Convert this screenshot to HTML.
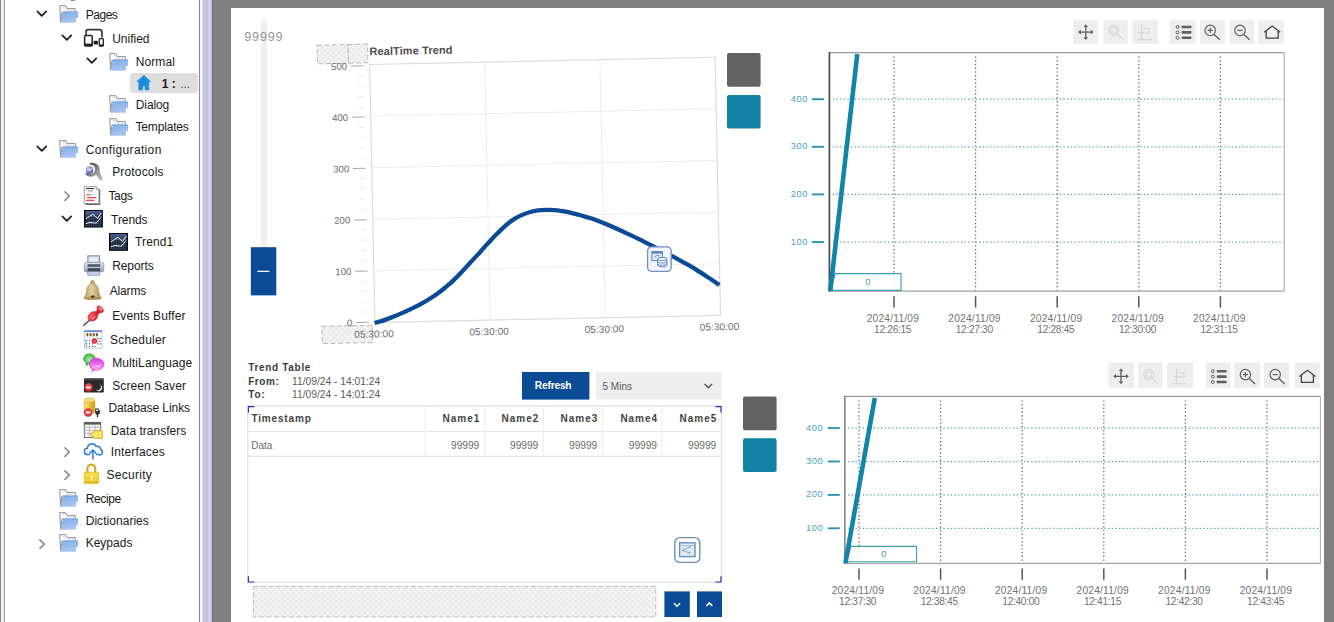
<!DOCTYPE html>
<html><head><meta charset="utf-8"><title>HMI Designer</title>
<style>
html,body{margin:0;padding:0}
body{width:1334px;height:622px;overflow:hidden;background:#808080;position:relative;font-family:"Liberation Sans",sans-serif;}
.abs{position:absolute}
.t{position:absolute;white-space:pre;line-height:1;color:#1a1a1a;font-size:12px}
svg{position:absolute;overflow:visible}
</style></head><body>

<div class="abs" style="left:0;top:0;width:199px;height:622px;background:#fff"></div>
<div class="abs" style="left:0;top:0;width:1px;height:622px;background:#8c8c8c"></div>
<div class="abs" style="left:1px;top:0;width:3px;height:622px;background:#efeff1"></div>
<div class="abs" style="left:4px;top:0;width:1px;height:622px;background:#9a9a9a"></div>
<div class="abs" style="left:199px;top:0;width:1px;height:622px;background:#8a8a8a"></div>
<div class="abs" style="left:200px;top:0;width:2px;height:622px;background:#f6f8f8"></div>
<div class="abs" style="left:202px;top:0;width:10px;height:622px;background:linear-gradient(90deg,#dfe3ee 0,#c6c9de 15%,#c3c6da 55%,#cad3f0 75%,#ccd6f3 90%,#9aa0b4 100%)"></div>
<div class="abs" style="left:212px;top:0;width:1px;height:622px;background:#70737a"></div>
<svg width="0" height="0" style="position:absolute"><defs>
<linearGradient id="fg" x1="0" y1="0" x2="0.3" y2="1"><stop offset="0" stop-color="#7fb0ea"/><stop offset="1" stop-color="#a9c3ee"/></linearGradient>
<symbol id="folder" viewBox="0 0 20 18.5">
 <path d="M0.7 0.7 H7 L8.2 3.7 H16.6 V7.4 H3 L1.7 17.6 Z" fill="#fdfdfd" stroke="#868686" stroke-width="0.95"/>
 <path d="M8.4 4.4 H16.1 V7 H4.4 Z" fill="#dfe3ea"/>
 <path d="M4 2.7h2.4" stroke="#b5b5b5" stroke-width="0.7"/>
 <path d="M3.9 6.9 H19.5 V13.2 H17.5 L17.1 18.1 H1.3 Z" fill="url(#fg)"/>
 <path d="M3.9 7.1 H19.5" stroke="#5d92da" stroke-width="0.8" opacity=".75"/>
</symbol>
<symbol id="chevd" viewBox="0 0 12 8"><path d="M1.2 1.6 L6 6.3 L10.8 1.6" fill="none" stroke="#222" stroke-width="1.95" stroke-linecap="round" stroke-linejoin="round"/></symbol>
<symbol id="chevr" viewBox="0 0 7 11"><path d="M1 1 L5.6 5.5 L1 10" fill="none" stroke="#8f8f8f" stroke-width="1.8" stroke-linecap="round" stroke-linejoin="round"/></symbol>
<linearGradient id="tg" x1="0" y1="0" x2="0" y2="1"><stop offset="0" stop-color="#3f6296"/><stop offset="1" stop-color="#0c1226"/></linearGradient>
<symbol id="trend" viewBox="0 0 19 18">
 <rect x="0" y="0" width="19" height="18" fill="#0c1226"/>
 <rect x="0" y="0" width="19" height="9" fill="url(#tg)"/>
 <path d="M2.6 0v18M5 0v18M7.4 0v18M9.8 0v18M12.2 0v18M14.6 0v18M17 0v18M0 1.8h19M0 4.2h19M0 6.6h19M0 9h19M0 11.4h19M0 13.8h19M0 16.2h19" stroke="#6f86a8" stroke-width="0.7" opacity=".62"/>
 <rect x="0.5" y="0.5" width="18" height="17" fill="none" stroke="#05070f" stroke-width="1.2"/>
 <path d="M1.8 9 L5.6 6.4 L9.2 4.4 L13.4 8.6 L17.6 3" fill="none" stroke="#f4f6ff" stroke-width="1"/>
 <path d="M1.8 14 L6 12.6 L10 13.2 L12.4 13.4 L17.2 7.6" fill="none" stroke="#f4f6ff" stroke-width="1"/>
</symbol>
</defs></svg>
<div class="abs" style="left:71px;top:0;width:4px;height:1px;background:#8a8a8a"></div>
<div class="abs" style="left:130.2px;top:73px;width:67.5px;height:19.6px;background:#dedede;border-radius:3px"></div>
<svg style="left:36.300000000000004px;top:10.1px" width="11.6" height="7.4"><use href="#chevd" width="11.6" height="7.4"/></svg>
<svg style="left:58.6px;top:5.2px" width="19.6" height="18.1"><use href="#folder" width="19.6" height="18.1"/></svg>
<div class="t" style="left:85.7px;top:9.0px;font-size:12px;color:#1a1a1a;letter-spacing:-0.466px;">Pages</div>
<svg style="left:61.10000000000001px;top:33.9px" width="11.6" height="7.4"><use href="#chevd" width="11.6" height="7.4"/></svg>
<div class="t" style="left:112.2px;top:32.6px;font-size:12px;color:#1a1a1a;letter-spacing:-0.009px;">Unified</div>
<svg style="left:86.10000000000001px;top:57.4px" width="11.6" height="7.4"><use href="#chevd" width="11.6" height="7.4"/></svg>
<svg style="left:108.6px;top:53.0px" width="19.6" height="18.1"><use href="#folder" width="19.6" height="18.1"/></svg>
<div class="t" style="left:135.8px;top:56.2px;font-size:12px;color:#1a1a1a;letter-spacing:0.072px;">Normal</div>
<div class="t" style="left:161.7px;top:77.6px;font-size:12px;color:#1a1a1a;letter-spacing:0.000px;font-weight:bold;">1 :</div>
<div class="t" style="left:180.2px;top:77.6px;font-size:12px;color:#444;letter-spacing:0.000px;">...</div>
<svg style="left:108.6px;top:95.3px" width="19.6" height="18.1"><use href="#folder" width="19.6" height="18.1"/></svg>
<div class="t" style="left:135.8px;top:98.6px;font-size:12px;color:#1a1a1a;letter-spacing:-0.122px;">Dialog</div>
<svg style="left:108.6px;top:118.1px" width="19.6" height="18.1"><use href="#folder" width="19.6" height="18.1"/></svg>
<div class="t" style="left:135.5px;top:121.2px;font-size:12px;color:#1a1a1a;letter-spacing:-0.167px;">Templates</div>
<svg style="left:36.300000000000004px;top:145.1px" width="11.6" height="7.4"><use href="#chevd" width="11.6" height="7.4"/></svg>
<svg style="left:58.6px;top:140.2px" width="19.6" height="18.1"><use href="#folder" width="19.6" height="18.1"/></svg>
<div class="t" style="left:85.7px;top:144.0px;font-size:12px;color:#1a1a1a;letter-spacing:0.355px;">Configuration</div>
<div class="t" style="left:112.2px;top:166.3px;font-size:12px;color:#1a1a1a;letter-spacing:0.163px;">Protocols</div>
<svg style="left:64.1px;top:191.0px" width="6.6" height="10.4"><use href="#chevr" width="6.6" height="10.4"/></svg>
<div class="t" style="left:108.4px;top:189.9px;font-size:12px;color:#1a1a1a;letter-spacing:-0.340px;">Tags</div>
<svg style="left:61.10000000000001px;top:215.3px" width="11.6" height="7.4"><use href="#chevd" width="11.6" height="7.4"/></svg>
<svg style="left:83.7px;top:210.1px" width="18.9" height="17.6"><use href="#trend" width="18.9" height="17.6"/></svg>
<div class="t" style="left:111.1px;top:213.7px;font-size:12px;color:#1a1a1a;letter-spacing:-0.085px;">Trends</div>
<svg style="left:108.7px;top:232.7px" width="19" height="17.8"><use href="#trend" width="19" height="17.8"/></svg>
<div class="t" style="left:135.1px;top:236.3px;font-size:12px;color:#1a1a1a;letter-spacing:0.087px;">Trend1</div>
<div class="t" style="left:112.2px;top:259.9px;font-size:12px;color:#1a1a1a;letter-spacing:-0.090px;">Reports</div>
<div class="t" style="left:109.7px;top:285.3px;font-size:12px;color:#1a1a1a;letter-spacing:-0.140px;">Alarms</div>
<div class="t" style="left:112.2px;top:310.0px;font-size:12px;color:#1a1a1a;letter-spacing:0.128px;">Events Buffer</div>
<div class="t" style="left:110.1px;top:333.9px;font-size:12px;color:#1a1a1a;letter-spacing:0.206px;">Scheduler</div>
<div class="t" style="left:112.2px;top:357.4px;font-size:12px;color:#1a1a1a;letter-spacing:0.113px;">MultiLanguage</div>
<div class="t" style="left:112.2px;top:380.3px;font-size:12px;color:#1a1a1a;letter-spacing:0.092px;">Screen Saver</div>
<div class="t" style="left:108.4px;top:401.6px;font-size:12px;color:#1a1a1a;letter-spacing:-0.080px;">Database Links</div>
<div class="t" style="left:110.7px;top:425.3px;font-size:12px;color:#1a1a1a;letter-spacing:0.009px;">Data transfers</div>
<svg style="left:64.1px;top:447.2px" width="6.6" height="10.4"><use href="#chevr" width="6.6" height="10.4"/></svg>
<div class="t" style="left:110.7px;top:446.3px;font-size:12px;color:#1a1a1a;letter-spacing:0.160px;">Interfaces</div>
<svg style="left:64.1px;top:470.2px" width="6.6" height="10.4"><use href="#chevr" width="6.6" height="10.4"/></svg>
<div class="t" style="left:106.4px;top:468.5px;font-size:12px;color:#1a1a1a;letter-spacing:0.305px;">Security</div>
<svg style="left:58.6px;top:489.0px" width="19.6" height="18.1"><use href="#folder" width="19.6" height="18.1"/></svg>
<div class="t" style="left:85.7px;top:492.8px;font-size:12px;color:#1a1a1a;letter-spacing:-0.360px;">Recipe</div>
<svg style="left:58.6px;top:511.5px" width="19.6" height="18.1"><use href="#folder" width="19.6" height="18.1"/></svg>
<div class="t" style="left:85.7px;top:515.0px;font-size:12px;color:#1a1a1a;letter-spacing:0.042px;">Dictionaries</div>
<svg style="left:38.8px;top:538.5px" width="6.6" height="10.4"><use href="#chevr" width="6.6" height="10.4"/></svg>
<svg style="left:58.6px;top:534.0px" width="19.6" height="18.1"><use href="#folder" width="19.6" height="18.1"/></svg>
<div class="t" style="left:85.7px;top:537.3px;font-size:12px;color:#1a1a1a;letter-spacing:0.000px;">Keypads</div>
<svg style="left:0;top:0" width="199" height="622" viewBox="0 0 199 622">
<defs>
<linearGradient id="wr" x1="0" y1="0" x2="1" y2="1"><stop offset="0" stop-color="#3a3a3a"/><stop offset=".55" stop-color="#8e8e8e"/><stop offset="1" stop-color="#c9c9c9"/></linearGradient>
<radialGradient id="gl" cx=".4" cy=".35" r=".7"><stop offset="0" stop-color="#c9cdf2"/><stop offset="1" stop-color="#4a52a0"/></radialGradient>
<linearGradient id="pr" x1="0" y1="0" x2="0" y2="1"><stop offset="0" stop-color="#e3e7ee"/><stop offset="1" stop-color="#97a2b3"/></linearGradient>
<linearGradient id="bell" x1="0" y1="0" x2="1" y2="0"><stop offset="0" stop-color="#b99a5c"/><stop offset=".45" stop-color="#e2cfa2"/><stop offset="1" stop-color="#a98a4c"/></linearGradient>
<radialGradient id="pin" cx=".4" cy=".35" r=".8"><stop offset="0" stop-color="#f2646c"/><stop offset="1" stop-color="#c8141e"/></radialGradient>
<radialGradient id="grn" cx=".5" cy=".6" r=".7"><stop offset="0" stop-color="#b4efb0"/><stop offset="1" stop-color="#2cae2c"/></radialGradient>
<linearGradient id="pnk" x1="0" y1="0" x2="0" y2="1"><stop offset="0" stop-color="#dc3adc"/><stop offset="1" stop-color="#f5a2f3"/></linearGradient>
<radialGradient id="red" cx=".45" cy=".4" r=".7"><stop offset="0" stop-color="#f0626a"/><stop offset="1" stop-color="#cc1820"/></radialGradient>
<linearGradient id="cyl" x1="0" y1="0" x2="1" y2="0"><stop offset="0" stop-color="#f6e27e"/><stop offset=".45" stop-color="#f0c83a"/><stop offset="1" stop-color="#d99410"/></linearGradient>
<linearGradient id="lock" x1="0" y1="0" x2="0" y2="1"><stop offset="0" stop-color="#f7e04a"/><stop offset="1" stop-color="#e6b814"/></linearGradient>
</defs>
<!-- Unified devices icon -->
<path d="M86 35.2 V32 a2.4 2.4 0 0 1 2.4 -2.4 H99.5 a2.4 2.4 0 0 1 2.4 2.4 V37.6" fill="none" stroke="#3a3a3a" stroke-width="1.7"/>
<rect x="84.6" y="35.5" width="7.6" height="10.4" rx="1" fill="#fff" stroke="#222" stroke-width="1.5"/>
<rect x="84.6" y="43.6" width="7.6" height="2.3" fill="#222"/>
<rect x="99.3" y="38.6" width="4" height="7.4" rx="0.8" fill="#fff" stroke="#222" stroke-width="1.3"/>
<rect x="99" y="44.4" width="4.6" height="1.8" fill="#222"/>
<rect x="93.6" y="40.8" width="4.4" height="3.6" rx="1" fill="#222"/>
<!-- Home -->
<path d="M143.9 75.2 L150.6 81.6 H148.8 V90 H145.1 V86 H142.6 V90 H138.8 V81.6 H136.8 Z" fill="#1b8edb" stroke="#1b8edb" stroke-width="0.6" stroke-linejoin="round"/>
<!-- Protocols: wrench + globe -->
<path d="M90 163 C96 161.5 100.5 165.5 99.6 171.5 L102.8 178.6 C103 180.6 100.6 181.4 99.6 180 L96 174.6 C93 177.4 88 177.4 85 174.2 L87.2 172.6 C90.2 175 94.8 173.4 95 169.4 C95.2 166.4 93 164.6 90 164.8 Z" fill="url(#wr)"/>
<circle cx="89.6" cy="170" r="3.7" fill="url(#gl)"/>
<path d="M86.6 169.2 q3 2.4 6 -0.4" stroke="#eef" stroke-width="0.9" fill="none"/>
<!-- Tags: paper with red lines -->
<path d="M85.4 188 H98 L100.2 190.2 V205 H85.4 Z" fill="#333" opacity=".75"/>
<path d="M84.3 186.6 H96.2 L99 189.4 V203.6 H84.3 Z" fill="#fbfbfb" stroke="#8a8a8a" stroke-width="0.8"/>
<path d="M96.2 186.6 V189.4 H99" fill="#e4e4e4" stroke="#8a8a8a" stroke-width="0.7"/>
<path d="M86 188.6 h8" stroke="#333" stroke-width="1.1"/>
<path d="M88 191 h5" stroke="#888" stroke-width="0.8"/>
<path d="M86 194.8 h5 M87 197.6 h9.4 M86 200.4 h8.4" stroke="#e8485a" stroke-width="1.1"/>
<!-- Reports: printer -->
<rect x="87.8" y="255.8" width="11.8" height="7.4" fill="#cfdaec" stroke="#6f7f9c" stroke-width="0.9"/>
<rect x="89.6" y="257.4" width="8" height="4" fill="#e6eefa"/>
<rect x="84.2" y="262.4" width="19.6" height="9.6" rx="2" fill="url(#pr)" stroke="#8892a4" stroke-width="0.7"/>
<rect x="87.6" y="264.2" width="12.6" height="2.6" fill="#4f5a6c"/>
<rect x="87.6" y="268.2" width="12.6" height="3.8" fill="#3f4858"/>
<rect x="87.8" y="271.6" width="11.8" height="3.6" fill="#c4d0ee" stroke="#7f8cb0" stroke-width="0.7"/>
<!-- Alarms: bell -->
<circle cx="92.6" cy="282.4" r="1.9" fill="#c8a968" stroke="#9a7c3e" stroke-width="0.6"/>
<path d="M92.6 283.4 C98.2 283.4 98.6 290 99.2 294 C99.6 296 101.4 297 101.4 298.2 C101.4 300 83.8 300 83.8 298.2 C83.8 297 85.6 296 86 294 C86.6 290 87 283.4 92.6 283.4 Z" fill="url(#bell)" stroke="#a08040" stroke-width="0.5"/>
<ellipse cx="92.6" cy="298.2" rx="8.6" ry="1.6" fill="#b09454"/>
<rect x="91" y="295.6" width="3.4" height="2" rx="0.8" fill="#2c2414"/>
<!-- Events buffer: push pin -->
<path d="M89.2 320.4 L83.6 325.4" stroke="#444" stroke-width="1.3" stroke-linecap="round"/>
<ellipse cx="92.8" cy="316.4" rx="5.6" ry="4.6" transform="rotate(-40 92.8 316.4)" fill="url(#pin)"/>
<path d="M94.6 312.6 L98.4 308.4 L101.6 311.6 L97.4 315.6 Z" fill="#d8242e"/>
<ellipse cx="100.2" cy="309.2" rx="4.2" ry="2.7" transform="rotate(48 100.2 309.2)" fill="url(#pin)"/>
<ellipse cx="100.8" cy="309" rx="1.6" ry="0.9" transform="rotate(48 100.8 309)" fill="#f7a0a6"/>
<path d="M91.4 318.2 l1.4 1 l2.2 -2.6" stroke="#f8c0c4" stroke-width="0.9" fill="none"/>
<!-- Scheduler -->
<rect x="84.3" y="330.8" width="17.6" height="17.4" fill="#fff" stroke="#a9c0e6" stroke-width="0.8"/>
<rect x="84.3" y="330.4" width="17.6" height="1.6" fill="#5a8ad6"/>
<g fill="#7a5a2a"><rect x="86.4" y="333" width="2" height="3.4" rx="0.8"/><rect x="89.6" y="333" width="2" height="3.4" rx="0.8"/><rect x="92.8" y="333" width="2" height="3.4" rx="0.8"/><rect x="96" y="333" width="2" height="3.4" rx="0.8"/></g>
<g fill="#333"><rect x="89" y="340.2" width="1" height="1"/><rect x="97.4" y="338" width="1" height="1"/><rect x="99.6" y="338" width="1" height="1"/><rect x="97.4" y="340.6" width="1" height="1"/><rect x="99.6" y="340.6" width="1" height="1"/><rect x="89" y="343.4" width="1" height="1"/><rect x="92" y="343.4" width="1" height="1"/><rect x="97.4" y="343.4" width="1" height="1"/><rect x="99.6" y="343.4" width="1" height="1"/><rect x="89" y="346" width="1" height="1"/><rect x="92" y="346" width="1" height="1"/><rect x="94.4" y="346" width="1" height="1"/></g>
<g fill="#4a90e8"><rect x="85.4" y="339.8" width="1.8" height="1.8"/><rect x="85.4" y="342.8" width="1.8" height="1.8"/><rect x="85.4" y="345.6" width="1.8" height="1.6"/></g>
<circle cx="94.4" cy="341" r="2.7" fill="#e8202c"/><circle cx="94.4" cy="341" r="0.9" fill="#fbd"/>
<!-- MultiLanguage bubbles -->
<path d="M86.6 362 L85.4 366.4 L89.4 363.6 Z" fill="#2cae2c"/>
<ellipse cx="89.4" cy="358.8" rx="5.7" ry="4.9" fill="url(#grn)" stroke="#2aa62a" stroke-width="0.9"/>
<path d="M92.8 368.6 L90.6 372.4 L96 369.6 Z" fill="#e65ce4"/>
<ellipse cx="96.6" cy="364.2" rx="7.3" ry="6" fill="url(#pnk)" stroke="#d63ad4" stroke-width="0.7"/>
<g fill="#fff"><circle cx="93.8" cy="366.2" r="0.8"/><circle cx="96.4" cy="366.2" r="0.8"/><circle cx="99" cy="366.2" r="0.8"/></g>
<!-- Screen saver -->
<rect x="84" y="378.2" width="19.8" height="14.2" rx="0.8" fill="#2b2b2b"/>
<rect x="84.8" y="379" width="18.2" height="1.2" fill="#4a4a4a"/>
<circle cx="88.5" cy="387.4" r="4.2" fill="url(#red)"/><rect x="86.2" y="386.6" width="4.6" height="1.7" fill="#fff"/>
<path d="M99.6 384.6 A3.4 3.4 0 1 1 95.8 389.6 A2.9 2.9 0 0 0 99.6 384.6 Z" fill="#f2f2f2"/>
<!-- Database links -->
<path d="M84.2 400 a5.3 2 0 0 1 10.6 0 V411.4 a5.3 2 0 0 1 -10.6 0 Z" fill="url(#cyl)" stroke="#c89a20" stroke-width="0.5"/>
<ellipse cx="89.5" cy="400" rx="5.3" ry="1.9" fill="#f4e28a" stroke="#d0a830" stroke-width="0.4"/>
<path d="M95.2 408.6 h3.6 v1.4 h1 v3.6 l-1.6 1 v2.6 h-1.4 v-2.4 l-1.6 -1.2 Z" fill="#1e2c3c"/>
<rect x="96.2" y="409.6" width="2" height="1.6" fill="#fff"/>
<circle cx="88.1" cy="412.5" r="4.3" fill="url(#red)"/><rect x="85.7" y="411.7" width="4.8" height="1.7" fill="#fff"/>
<!-- Data transfers -->
<rect x="84.3" y="422.4" width="16.4" height="15.2" fill="#f4f4f4" stroke="#5a5a5a" stroke-width="0.9"/>
<rect x="84.3" y="422.4" width="16.4" height="2.2" fill="#5a5a5a"/>
<path d="M84.3 427.4 h16.4 M84.3 430.4 h16.4 M84.3 433.4 h16.4 M89.6 424.6 v13 M95 424.6 v13" stroke="#b4b4b4" stroke-width="0.8"/>
<path d="M90.4 434.6 L94.6 430.8 H102.4 V438.4 H94.6 Z" fill="#f8e468" stroke="#c9a822" stroke-width="0.9" stroke-linejoin="round"/>
<!-- Interfaces cloud -->
<path d="M89.6 454.6 H87.8 a3.2 3.2 0 0 1 -0.4 -6.4 a4.6 4.6 0 0 1 8.8 -1.6 a3.4 3.4 0 0 1 4.6 3.2 a2.6 2.6 0 0 1 -2 4.8 H96.4" fill="none" stroke="#2b7be8" stroke-width="1.5" stroke-linecap="round" stroke-linejoin="round"/>
<path d="M92.9 459 V450.4 M89.9 453 L92.9 450 L95.9 453" fill="none" stroke="#2b7be8" stroke-width="1.5" stroke-linecap="round" stroke-linejoin="round"/>
<!-- Security lock -->
<path d="M87.4 473 V468.6 a3.9 3.9 0 0 1 7.8 0 V473" fill="none" stroke="#d9a826" stroke-width="2.2"/>
<rect x="84.2" y="472.2" width="14.6" height="11.4" rx="0.8" fill="url(#lock)" stroke="#d0a010" stroke-width="0.5"/>
<path d="M84.6 476 h13.8 M84.6 480 h13.8" stroke="#f9ec8c" stroke-width="1" opacity=".8"/>
<rect x="90.6" y="475" width="1.8" height="6" fill="#f9f0a8" opacity=".9"/>
</svg>

<div class="abs" style="left:231px;top:8px;width:1092.5px;height:614px;background:#fff"></div>
<svg style="left:0;top:0" width="1334" height="622" viewBox="0 0 1334 622" font-family="'Liberation Sans', sans-serif">
<defs>
<pattern id="dots" width="5.7" height="5.7" patternUnits="userSpaceOnUse"><rect width="5.7" height="5.7" fill="#e9e9e9"/><path d="M0 0L5.7 5.7M5.7 0L0 5.7" stroke="#f4f4f4" stroke-width="1.5"/></pattern>
</defs>
<rect x="261" y="20.6" width="6" height="228" fill="#efefef"/>
<rect x="250.8" y="247.2" width="25.5" height="48.2" fill="#0b4b95"/>
<rect x="257.4" y="270.7" width="12" height="1.3" fill="#fff"/>
<text x="244.2" y="41" font-size="12.6" fill="#969696" textLength="38.4" lengthAdjust="spacing">99999</text>
<rect x="727" y="53" width="33.6" height="33.8" rx="2" fill="#626262"/>
<rect x="727" y="95" width="33.6" height="33.6" rx="2" fill="#1284a8"/>
<rect x="743" y="396.4" width="33.6" height="33.8" rx="2" fill="#626262"/>
<rect x="743" y="438.2" width="33.6" height="33.8" rx="2" fill="#1284a8"/>
<g transform="rotate(-1.2 545.05 189.9)">
<rect x="320.2" y="40.4" width="31" height="18.7" fill="url(#dots)" stroke="#b9b9b9" stroke-width="1" stroke-dasharray="5 2.5"/>
<rect x="351.2" y="40.4" width="19.4" height="18.7" fill="url(#dots)" stroke="#b9b9b9" stroke-width="1" stroke-dasharray="5 2.5"/>
<rect x="319.1" y="321.6" width="50.4" height="17.3" fill="url(#dots)" stroke="#b9b9b9" stroke-width="1" stroke-dasharray="5 2.5"/>
<rect x="372.25" y="60.85" width="345.6" height="258.1" fill="#fff" stroke="#dcdcdc" stroke-width="1.2"/>
<path d="M487.45 60.85V318.95" stroke="#ebebeb" stroke-width="1"/>
<path d="M602.65 60.85V318.95" stroke="#ebebeb" stroke-width="1"/>
<path d="M372.25 267.33H717.85" stroke="#ebebeb" stroke-width="1"/>
<path d="M372.25 215.71H717.85" stroke="#ebebeb" stroke-width="1"/>
<path d="M372.25 164.09H717.85" stroke="#ebebeb" stroke-width="1"/>
<path d="M372.25 112.47H717.85" stroke="#ebebeb" stroke-width="1"/>
<path d="M353.45 318.55h12.6" stroke="#a8a8a8" stroke-width="1"/>
<text x="349.65" y="322.05" font-size="9.6" fill="#6a6a6a" text-anchor="end">0</text>
<path d="M359.85 308.29h6.2" stroke="#ececec" stroke-width="1"/>
<path d="M359.85 298.02h6.2" stroke="#ececec" stroke-width="1"/>
<path d="M359.85 287.76h6.2" stroke="#ececec" stroke-width="1"/>
<path d="M359.85 277.49h6.2" stroke="#ececec" stroke-width="1"/>
<path d="M353.45 267.23h12.6" stroke="#a8a8a8" stroke-width="1"/>
<text x="349.65" y="270.73" font-size="9.6" fill="#6a6a6a" text-anchor="end">100</text>
<path d="M359.85 256.97h6.2" stroke="#ececec" stroke-width="1"/>
<path d="M359.85 246.70h6.2" stroke="#ececec" stroke-width="1"/>
<path d="M359.85 236.44h6.2" stroke="#ececec" stroke-width="1"/>
<path d="M359.85 226.17h6.2" stroke="#ececec" stroke-width="1"/>
<path d="M353.45 215.91h12.6" stroke="#a8a8a8" stroke-width="1"/>
<text x="349.65" y="219.41" font-size="9.6" fill="#6a6a6a" text-anchor="end">200</text>
<path d="M359.85 205.65h6.2" stroke="#ececec" stroke-width="1"/>
<path d="M359.85 195.38h6.2" stroke="#ececec" stroke-width="1"/>
<path d="M359.85 185.12h6.2" stroke="#ececec" stroke-width="1"/>
<path d="M359.85 174.85h6.2" stroke="#ececec" stroke-width="1"/>
<path d="M353.45 164.59h12.6" stroke="#a8a8a8" stroke-width="1"/>
<text x="349.65" y="168.09" font-size="9.6" fill="#6a6a6a" text-anchor="end">300</text>
<path d="M359.85 154.33h6.2" stroke="#ececec" stroke-width="1"/>
<path d="M359.85 144.06h6.2" stroke="#ececec" stroke-width="1"/>
<path d="M359.85 133.80h6.2" stroke="#ececec" stroke-width="1"/>
<path d="M359.85 123.53h6.2" stroke="#ececec" stroke-width="1"/>
<path d="M353.45 113.27h12.6" stroke="#a8a8a8" stroke-width="1"/>
<text x="349.65" y="116.77" font-size="9.6" fill="#6a6a6a" text-anchor="end">400</text>
<path d="M359.85 103.01h6.2" stroke="#ececec" stroke-width="1"/>
<path d="M359.85 92.74h6.2" stroke="#ececec" stroke-width="1"/>
<path d="M359.85 82.48h6.2" stroke="#ececec" stroke-width="1"/>
<path d="M359.85 72.21h6.2" stroke="#ececec" stroke-width="1"/>
<path d="M353.45 61.95h12.6" stroke="#a8a8a8" stroke-width="1"/>
<text x="349.65" y="65.45" font-size="9.6" fill="#6a6a6a" text-anchor="end">500</text>
<text x="370.95" y="333.85" font-size="10" fill="#6a6a6a" text-anchor="middle" textLength="39.4" lengthAdjust="spacing">05:30:00</text>
<text x="486.15" y="333.85" font-size="10" fill="#6a6a6a" text-anchor="middle" textLength="39.4" lengthAdjust="spacing">05:30:00</text>
<text x="601.35" y="333.85" font-size="10" fill="#6a6a6a" text-anchor="middle" textLength="39.4" lengthAdjust="spacing">05:30:00</text>
<text x="716.55" y="333.85" font-size="10" fill="#6a6a6a" text-anchor="middle" textLength="39.4" lengthAdjust="spacing">05:30:00</text>
<text x="372.25" y="51.65" font-size="11" font-weight="bold" fill="#4c4c4c" textLength="83.2" lengthAdjust="spacing">RealTime Trend</text>
</g>
<path d="M374.6 323 C376.2 322.5 381.1 321.2 384.3 320.1 C387.5 319.0 390.7 317.8 393.9 316.5 C397.1 315.2 400.4 313.8 403.6 312.4 C406.8 311.0 410.0 309.5 413.2 307.9 C416.4 306.3 419.7 304.6 422.9 302.8 C426.1 301.0 429.6 298.9 432.5 297 C435.4 295.1 437.7 293.4 440 291.7 C442.3 290.0 444.2 288.4 446.4 286.6 C448.5 284.8 450.8 282.9 452.9 280.9 C455.0 278.9 457.2 276.7 459.3 274.5 C461.4 272.3 463.6 269.9 465.7 267.6 C467.8 265.3 469.8 263.2 472.2 260.6 C474.6 258.0 477.7 254.7 480 252.2 C482.3 249.7 484.0 247.6 486 245.4 C488.0 243.2 490.0 241.0 492 238.9 C494.0 236.8 495.6 235.1 498 232.8 C500.4 230.5 503.4 227.4 506.1 225.1 C508.8 222.8 511.4 220.8 514.1 219.1 C516.8 217.4 519.5 216.1 522.2 214.9 C524.9 213.7 527.5 212.8 530.2 212 C532.9 211.2 535.5 210.8 538.2 210.4 C540.9 210.1 543.6 210.0 546.3 209.9 C549.0 209.8 551.6 209.9 554.3 210.1 C557.0 210.3 559.6 210.7 562.3 211.1 C565.0 211.5 567.7 212.1 570.4 212.7 C573.1 213.3 575.7 214.0 578.4 214.7 C581.1 215.4 583.8 216.3 586.5 217.1 C589.2 217.9 590.8 218.1 594.5 219.5 C598.2 220.9 604.1 223.2 608.9 225.3 C613.7 227.4 618.6 229.6 623.4 231.8 C628.2 234.0 633.1 236.2 637.9 238.6 C642.7 240.9 646.5 242.9 652.3 245.9 C658.1 248.9 667.8 253.9 672.6 256.4 C677.4 258.9 677.4 258.9 681.3 261.1 C685.1 263.3 690.9 266.4 695.7 269.4 C700.5 272.3 706.2 276.2 710.2 278.8 C714.2 281.4 717.9 284.0 719.4 285" fill="none" stroke="#0b4b95" stroke-width="4.3" stroke-linecap="butt"/>
<rect x="647.6" y="246.8" width="23.6" height="24.6" rx="4.2" fill="#f2f6fc" stroke="#6d8fc6" stroke-width="1.3"/>
<rect x="651.8" y="251.6" width="10.6" height="9" fill="#dfe8f6" stroke="#5f86c4" stroke-width="1"/>
<rect x="651.8" y="251.4" width="10.6" height="2.2" fill="#5f86c4"/>
<path d="M654.4 257.6 l2 -2 h3" stroke="#5f86c4" stroke-width="0.9" fill="none"/>
<path d="M657.6 259 a4.6 1.7 0 0 1 9.2 0 V265.2 a4.6 1.7 0 0 1 -9.2 0 Z" fill="#eef3fb" stroke="#5f86c4" stroke-width="1"/>
<path d="M657.6 259 a4.6 1.7 0 0 0 9.2 0 M657.6 261.4 a4.6 1.7 0 0 0 9.2 0 M657.6 263.6 a4.6 1.7 0 0 0 9.2 0" fill="none" stroke="#5f86c4" stroke-width="0.9"/>
<text x="248.2" y="370.8" font-size="10" font-weight="bold" fill="#3c3c3c" textLength="62.2" lengthAdjust="spacing">Trend Table</text>
<text x="248.2" y="385.2" font-size="10" font-weight="bold" fill="#3c3c3c" textLength="30.6" lengthAdjust="spacing">From:</text>
<text x="248.2" y="397.9" font-size="10" font-weight="bold" fill="#3c3c3c" textLength="16.6" lengthAdjust="spacing">To:</text>
<text x="292" y="385.2" font-size="10.2" fill="#5a5a5a" textLength="88.2" lengthAdjust="spacing">11/09/24 - 14:01:24</text>
<text x="292" y="397.9" font-size="10.2" fill="#5a5a5a" textLength="88.2" lengthAdjust="spacing">11/09/24 - 14:01:24</text>
<rect x="522" y="372" width="67.4" height="27.6" fill="#0b4b95"/>
<text x="553.2" y="388.5" font-size="10.2" font-weight="bold" fill="#fff" text-anchor="middle" textLength="36.8" lengthAdjust="spacing">Refresh</text>
<rect x="595.8" y="372" width="126" height="27.6" fill="#eeeeee"/>
<text x="602.4" y="389.6" font-size="10" fill="#5a5a5a" textLength="29.6" lengthAdjust="spacing">5 Mins</text>
<path d="M704.6 384 l3.7 3.7 l3.7 -3.7" fill="none" stroke="#555" stroke-width="1.4"/>
<rect x="247.8" y="405.8" width="473.6" height="176.6" fill="#fff" stroke="#e2e2e4" stroke-width="1.3"/>
<path d="M247.8 431.5H721.4 M247.8 456.3H721.4" stroke="#e6e6e6" stroke-width="1.2"/>
<path d="M425 406V456.3" stroke="#ececec" stroke-width="1"/>
<path d="M484.7 406V456.3" stroke="#ececec" stroke-width="1"/>
<path d="M543.6 406V456.3" stroke="#ececec" stroke-width="1"/>
<path d="M602.7 406V456.3" stroke="#ececec" stroke-width="1"/>
<path d="M662 406V456.3" stroke="#ececec" stroke-width="1"/>
<text x="251.4" y="422.2" font-size="10" font-weight="bold" fill="#444" textLength="59.4" lengthAdjust="spacing">Timestamp</text>
<text x="251.2" y="448.6" font-size="10" fill="#6a6a6a" textLength="21" lengthAdjust="spacing">Data</text>
<text x="479.2" y="422.2" font-size="10" font-weight="bold" fill="#444" text-anchor="end" textLength="36.6" lengthAdjust="spacing">Name1</text>
<text x="479.2" y="448.6" font-size="10.2" fill="#6a6a6a" text-anchor="end" textLength="28.2" lengthAdjust="spacing">99999</text>
<text x="538.2" y="422.2" font-size="10" font-weight="bold" fill="#444" text-anchor="end" textLength="36.6" lengthAdjust="spacing">Name2</text>
<text x="538.2" y="448.6" font-size="10.2" fill="#6a6a6a" text-anchor="end" textLength="28.2" lengthAdjust="spacing">99999</text>
<text x="597.2" y="422.2" font-size="10" font-weight="bold" fill="#444" text-anchor="end" textLength="36.6" lengthAdjust="spacing">Name3</text>
<text x="597.2" y="448.6" font-size="10.2" fill="#6a6a6a" text-anchor="end" textLength="28.2" lengthAdjust="spacing">99999</text>
<text x="657" y="422.2" font-size="10" font-weight="bold" fill="#444" text-anchor="end" textLength="36.6" lengthAdjust="spacing">Name4</text>
<text x="657" y="448.6" font-size="10.2" fill="#6a6a6a" text-anchor="end" textLength="28.2" lengthAdjust="spacing">99999</text>
<text x="716.2" y="422.2" font-size="10" font-weight="bold" fill="#444" text-anchor="end" textLength="36.6" lengthAdjust="spacing">Name5</text>
<text x="716.2" y="448.6" font-size="10.2" fill="#6a6a6a" text-anchor="end" textLength="28.2" lengthAdjust="spacing">99999</text>
<path d="M248.4 412.4V406.6H254.4 M715.4 406.6H721V412.4 M248.4 576.2V582H254.4 M715.4 582H721V576.2" fill="none" stroke="#2f2fd0" stroke-width="1.2"/>
<rect x="674.8" y="537.6" width="25" height="24.8" rx="5" fill="#fff" stroke="#6b90c0" stroke-width="1.4"/>
<rect x="679.6" y="542.8" width="15.4" height="13.8" fill="#e1e9f5" stroke="#6b90c0" stroke-width="1.4"/>
<path d="M680.4 545.6h13.8" stroke="#9db6d6" stroke-width="0.8"/>
<path d="M683 550.4 l4.4 -2.4 M683 550.4 l5.6 2.2 M687.4 548 l2.4 -1.4" stroke="#7a9ccc" stroke-width="0.9" fill="none"/>
<circle cx="683" cy="550.4" r="0.9" fill="#7a9ccc"/><circle cx="689.6" cy="552.8" r="1" fill="#7a9ccc"/><circle cx="690" cy="546.8" r="0.9" fill="#7a9ccc"/>
<rect x="253.4" y="586.4" width="402.4" height="30.6" fill="url(#dots)" stroke="#bcbcbc" stroke-width="1" stroke-dasharray="5 2.5"/>
<rect x="664.4" y="591.4" width="25.4" height="25.6" fill="#0b4b95"/><rect x="697" y="591.4" width="25" height="25.6" fill="#0b4b95"/>
<path d="M674 603.2 l3 3 l3 -3" fill="none" stroke="#fff" stroke-width="1.6"/>
<path d="M706.4 606 l3 -3 l3 3" fill="none" stroke="#fff" stroke-width="1.6"/>
<rect x="829.4" y="52.6" width="454.80000000000007" height="238.6" fill="#fff"/>
<path d="M832.9 99.2H1283.7" stroke="#3d9cbb" stroke-width="1.25" stroke-dasharray="1.2 2.46"/>
<path d="M832.9 146.8H1283.7" stroke="#3d9cbb" stroke-width="1.25" stroke-dasharray="1.2 2.46"/>
<path d="M832.9 194.4H1283.7" stroke="#3d9cbb" stroke-width="1.25" stroke-dasharray="1.2 2.46"/>
<path d="M832.9 242.0H1283.7" stroke="#3d9cbb" stroke-width="1.25" stroke-dasharray="1.2 2.46"/>
<path d="M894 56.6V290.7" stroke="#5a5a5a" stroke-width="1.25" stroke-dasharray="1.2 2.5"/>
<path d="M975.6 56.6V290.7" stroke="#5a5a5a" stroke-width="1.25" stroke-dasharray="1.2 2.5"/>
<path d="M1057.2 56.6V290.7" stroke="#5a5a5a" stroke-width="1.25" stroke-dasharray="1.2 2.5"/>
<path d="M1138.8 56.6V290.7" stroke="#5a5a5a" stroke-width="1.25" stroke-dasharray="1.2 2.5"/>
<path d="M1220.4 56.6V290.7" stroke="#5a5a5a" stroke-width="1.25" stroke-dasharray="1.2 2.5"/>
<path d="M829.4 52.6H1284.2" stroke="#9c9c9c" stroke-width="1.2"/>
<path d="M1284.2 52.6V291.2" stroke="#b4b4b4" stroke-width="1.2"/>
<path d="M829.4 291.2H1284.2" stroke="#a4a4a4" stroke-width="1.2"/>
<path d="M829.4 52.0V291.8" stroke="#4a4a4a" stroke-width="1.7"/>
<path d="M811.8 99.2H824.2" stroke="#2a93b4" stroke-width="1.9"/>
<text x="807.4" y="101.7" font-size="9.4" fill="#4aa0bd" text-anchor="end" textLength="16.6" lengthAdjust="spacing">400</text>
<path d="M811.8 146.8H824.2" stroke="#2a93b4" stroke-width="1.9"/>
<text x="807.4" y="149.3" font-size="9.4" fill="#4aa0bd" text-anchor="end" textLength="16.6" lengthAdjust="spacing">300</text>
<path d="M811.8 194.4H824.2" stroke="#2a93b4" stroke-width="1.9"/>
<text x="807.4" y="196.9" font-size="9.4" fill="#4aa0bd" text-anchor="end" textLength="16.6" lengthAdjust="spacing">200</text>
<path d="M811.8 242.0H824.2" stroke="#2a93b4" stroke-width="1.9"/>
<text x="807.4" y="244.5" font-size="9.4" fill="#4aa0bd" text-anchor="end" textLength="16.6" lengthAdjust="spacing">100</text>
<path d="M894 296.2V307.59999999999997" stroke="#555" stroke-width="1.5"/>
<text x="892.8" y="321.7" font-size="10.2" fill="#727272" text-anchor="middle" textLength="52.2" lengthAdjust="spacing">2024/11/09</text>
<text x="892.8" y="333.0" font-size="10.2" fill="#727272" text-anchor="middle" textLength="37.4" lengthAdjust="spacing">12:26:15</text>
<path d="M975.6 296.2V307.59999999999997" stroke="#555" stroke-width="1.5"/>
<text x="974.4" y="321.7" font-size="10.2" fill="#727272" text-anchor="middle" textLength="52.2" lengthAdjust="spacing">2024/11/09</text>
<text x="974.4" y="333.0" font-size="10.2" fill="#727272" text-anchor="middle" textLength="37.4" lengthAdjust="spacing">12:27:30</text>
<path d="M1057.2 296.2V307.59999999999997" stroke="#555" stroke-width="1.5"/>
<text x="1056.0" y="321.7" font-size="10.2" fill="#727272" text-anchor="middle" textLength="52.2" lengthAdjust="spacing">2024/11/09</text>
<text x="1056.0" y="333.0" font-size="10.2" fill="#727272" text-anchor="middle" textLength="37.4" lengthAdjust="spacing">12:28:45</text>
<path d="M1138.8 296.2V307.59999999999997" stroke="#555" stroke-width="1.5"/>
<text x="1137.6" y="321.7" font-size="10.2" fill="#727272" text-anchor="middle" textLength="52.2" lengthAdjust="spacing">2024/11/09</text>
<text x="1137.6" y="333.0" font-size="10.2" fill="#727272" text-anchor="middle" textLength="37.4" lengthAdjust="spacing">12:30:00</text>
<path d="M1220.4 296.2V307.59999999999997" stroke="#555" stroke-width="1.5"/>
<text x="1219.2" y="321.7" font-size="10.2" fill="#727272" text-anchor="middle" textLength="52.2" lengthAdjust="spacing">2024/11/09</text>
<text x="1219.2" y="333.0" font-size="10.2" fill="#727272" text-anchor="middle" textLength="37.4" lengthAdjust="spacing">12:31:15</text>
<path d="M830.1999999999999 290.8 L835.2 273.6 H901 V290.4 H830.1999999999999" fill="#fff" fill-opacity=".85" stroke="#3f9ab6" stroke-width="1.1"/>
<text x="867.9" y="285.09999999999997" font-size="9.4" fill="#4aa0bd" text-anchor="middle">0</text>
<path d="M830.3 290.8L857.3 54" stroke="#1284a8" stroke-width="4.6"/>
<rect x="844.8" y="396.4" width="475.60000000000014" height="167.0" fill="#fff"/>
<path d="M848.3 428.1H1319.9" stroke="#3d9cbb" stroke-width="1.25" stroke-dasharray="1.2 2.46"/>
<path d="M848.3 461.5H1319.9" stroke="#3d9cbb" stroke-width="1.25" stroke-dasharray="1.2 2.46"/>
<path d="M848.3 494.9H1319.9" stroke="#3d9cbb" stroke-width="1.25" stroke-dasharray="1.2 2.46"/>
<path d="M848.3 528.3H1319.9" stroke="#3d9cbb" stroke-width="1.25" stroke-dasharray="1.2 2.46"/>
<path d="M859 400.4V562.9" stroke="#5a5a5a" stroke-width="1.25" stroke-dasharray="1.2 2.5"/>
<path d="M940.6 400.4V562.9" stroke="#5a5a5a" stroke-width="1.25" stroke-dasharray="1.2 2.5"/>
<path d="M1022.2 400.4V562.9" stroke="#5a5a5a" stroke-width="1.25" stroke-dasharray="1.2 2.5"/>
<path d="M1103.8 400.4V562.9" stroke="#5a5a5a" stroke-width="1.25" stroke-dasharray="1.2 2.5"/>
<path d="M1185.4 400.4V562.9" stroke="#5a5a5a" stroke-width="1.25" stroke-dasharray="1.2 2.5"/>
<path d="M1267 400.4V562.9" stroke="#5a5a5a" stroke-width="1.25" stroke-dasharray="1.2 2.5"/>
<path d="M844.8 396.4H1320.4" stroke="#9c9c9c" stroke-width="1.2"/>
<path d="M1320.4 396.4V563.4" stroke="#b4b4b4" stroke-width="1.2"/>
<path d="M844.8 563.4H1320.4" stroke="#a4a4a4" stroke-width="1.2"/>
<path d="M844.8 395.79999999999995V564.0" stroke="#8a8a8a" stroke-width="1.7"/>
<path d="M827.8 428.1H839.8" stroke="#2a93b4" stroke-width="1.9"/>
<text x="822.6" y="430.6" font-size="9.4" fill="#4aa0bd" text-anchor="end" textLength="16.6" lengthAdjust="spacing">400</text>
<path d="M827.8 461.5H839.8" stroke="#2a93b4" stroke-width="1.9"/>
<text x="822.6" y="464.0" font-size="9.4" fill="#4aa0bd" text-anchor="end" textLength="16.6" lengthAdjust="spacing">300</text>
<path d="M827.8 494.9H839.8" stroke="#2a93b4" stroke-width="1.9"/>
<text x="822.6" y="497.4" font-size="9.4" fill="#4aa0bd" text-anchor="end" textLength="16.6" lengthAdjust="spacing">200</text>
<path d="M827.8 528.3H839.8" stroke="#2a93b4" stroke-width="1.9"/>
<text x="822.6" y="530.8" font-size="9.4" fill="#4aa0bd" text-anchor="end" textLength="16.6" lengthAdjust="spacing">100</text>
<path d="M859 568.4V579.8" stroke="#555" stroke-width="1.5"/>
<text x="857.8" y="593.9" font-size="10.2" fill="#727272" text-anchor="middle" textLength="52.2" lengthAdjust="spacing">2024/11/09</text>
<text x="857.8" y="605.1999999999999" font-size="10.2" fill="#727272" text-anchor="middle" textLength="37.4" lengthAdjust="spacing">12:37:30</text>
<path d="M940.6 568.4V579.8" stroke="#555" stroke-width="1.5"/>
<text x="939.4" y="593.9" font-size="10.2" fill="#727272" text-anchor="middle" textLength="52.2" lengthAdjust="spacing">2024/11/09</text>
<text x="939.4" y="605.1999999999999" font-size="10.2" fill="#727272" text-anchor="middle" textLength="37.4" lengthAdjust="spacing">12:38:45</text>
<path d="M1022.2 568.4V579.8" stroke="#555" stroke-width="1.5"/>
<text x="1021.0" y="593.9" font-size="10.2" fill="#727272" text-anchor="middle" textLength="52.2" lengthAdjust="spacing">2024/11/09</text>
<text x="1021.0" y="605.1999999999999" font-size="10.2" fill="#727272" text-anchor="middle" textLength="37.4" lengthAdjust="spacing">12:40:00</text>
<path d="M1103.8 568.4V579.8" stroke="#555" stroke-width="1.5"/>
<text x="1102.6" y="593.9" font-size="10.2" fill="#727272" text-anchor="middle" textLength="52.2" lengthAdjust="spacing">2024/11/09</text>
<text x="1102.6" y="605.1999999999999" font-size="10.2" fill="#727272" text-anchor="middle" textLength="37.4" lengthAdjust="spacing">12:41:15</text>
<path d="M1185.4 568.4V579.8" stroke="#555" stroke-width="1.5"/>
<text x="1184.2" y="593.9" font-size="10.2" fill="#727272" text-anchor="middle" textLength="52.2" lengthAdjust="spacing">2024/11/09</text>
<text x="1184.2" y="605.1999999999999" font-size="10.2" fill="#727272" text-anchor="middle" textLength="37.4" lengthAdjust="spacing">12:42:30</text>
<path d="M1267 568.4V579.8" stroke="#555" stroke-width="1.5"/>
<text x="1265.8" y="593.9" font-size="10.2" fill="#727272" text-anchor="middle" textLength="52.2" lengthAdjust="spacing">2024/11/09</text>
<text x="1265.8" y="605.1999999999999" font-size="10.2" fill="#727272" text-anchor="middle" textLength="37.4" lengthAdjust="spacing">12:43:45</text>
<path d="M845.5999999999999 563.0 L851 546.4 H916.6 V561.8 H845.5999999999999" fill="#fff" fill-opacity=".85" stroke="#3f9ab6" stroke-width="1.1"/>
<text x="883.5999999999999" y="556.5" font-size="9.4" fill="#4aa0bd" text-anchor="middle">0</text>
<path d="M845.4 563.2L874.8 398" stroke="#1284a8" stroke-width="4.6"/>
<rect x="1073.5" y="20.2" width="24.2" height="23.7" fill="#eeeeee"/>
<rect x="1103.4" y="20.2" width="24.4" height="23.7" fill="#eeeeee"/>
<rect x="1132.2" y="20.2" width="25.8" height="23.7" fill="#eeeeee"/>
<rect x="1169.8" y="20.2" width="26" height="23.7" fill="#eeeeee"/>
<rect x="1200" y="20.2" width="25.6" height="23.7" fill="#eeeeee"/>
<rect x="1229.6" y="20.2" width="24.6" height="23.7" fill="#eeeeee"/>
<rect x="1258.2" y="20.2" width="25.8" height="23.7" fill="#eeeeee"/>
<g transform="translate(0 0)">
<path d="M1079.6 32.1H1092 M1085.8 25.8V38.4" stroke="#606060" stroke-width="1.3"/>
<path d="M1085.8 24.2l-2.3 2.8h4.6z M1085.8 40l-2.3 -2.8h4.6z M1078 32.1l2.8 -2.3v4.6z M1093.6 32.1l-2.8 -2.3v4.6z" fill="#606060"/>
<circle cx="1113.6" cy="30.4" r="5" fill="none" stroke="#d8d8d8" stroke-width="1.2"/><rect x="1111" y="27.8" width="5.2" height="5.2" fill="none" stroke="#d8d8d8" stroke-width="1"/><path d="M1117.2 34.2L1123 39.6" stroke="#d8d8d8" stroke-width="1.3"/>
<path d="M1141.4 24V40 M1137 39.6H1152 M1138 32.4H1145" stroke="#d8d8d8" stroke-width="1.1" fill="none"/><path d="M1144 28.6h5.4l-1.6 2 2.6 2.2h-5.2" stroke="#d8d8d8" stroke-width="1" fill="none"/>
<circle cx="1177.6" cy="27" r="1.5" fill="none" stroke="#606060" stroke-width="1"/><rect x="1181.6" y="25.7" width="9.8" height="2.6" rx="0.6" fill="#606060"/>
<circle cx="1177.6" cy="32.4" r="1.5" fill="none" stroke="#606060" stroke-width="1"/><rect x="1181.6" y="31.099999999999998" width="9.8" height="2.6" rx="0.6" fill="#606060"/>
<circle cx="1177.6" cy="37.8" r="1.5" fill="none" stroke="#606060" stroke-width="1"/><rect x="1181.6" y="36.5" width="9.8" height="2.6" rx="0.6" fill="#606060"/>
<circle cx="1210.2" cy="30.4" r="5.2" fill="none" stroke="#606060" stroke-width="1.2"/>
<path d="M1214.0 34.4L1219.8 39.8" stroke="#606060" stroke-width="1.4"/>
<path d="M1207.6000000000001 30.4h5.2" stroke="#606060" stroke-width="1.2"/>
<path d="M1210.2 27.8v5.2" stroke="#606060" stroke-width="1.2"/>
<circle cx="1240" cy="30.4" r="5.2" fill="none" stroke="#606060" stroke-width="1.2"/>
<path d="M1243.8 34.4L1249.6 39.8" stroke="#606060" stroke-width="1.4"/>
<path d="M1237.4 30.4h5.2" stroke="#606060" stroke-width="1.2"/>
<path d="M1264.2 32.2L1272.2 26L1280.2 32.2 M1266.2 31V38.2H1278.2V31" fill="none" stroke="#444" stroke-width="1.3"/>
</g>
<rect x="1108.4" y="362.4" width="25.5" height="25.6" fill="#eeeeee"/>
<rect x="1138.2" y="362.4" width="24.6" height="25.6" fill="#eeeeee"/>
<rect x="1167" y="362.4" width="26" height="25.6" fill="#eeeeee"/>
<rect x="1206.1" y="362.4" width="24.6" height="25.6" fill="#eeeeee"/>
<rect x="1234.2" y="362.4" width="25.8" height="25.6" fill="#eeeeee"/>
<rect x="1264" y="362.4" width="25.1" height="25.6" fill="#eeeeee"/>
<rect x="1294.4" y="362.4" width="25.2" height="25.6" fill="#eeeeee"/>
<g transform="translate(35.2 344.2)">
<path d="M1079.6 32.1H1092 M1085.8 25.8V38.4" stroke="#606060" stroke-width="1.3"/>
<path d="M1085.8 24.2l-2.3 2.8h4.6z M1085.8 40l-2.3 -2.8h4.6z M1078 32.1l2.8 -2.3v4.6z M1093.6 32.1l-2.8 -2.3v4.6z" fill="#606060"/>
<circle cx="1113.6" cy="30.4" r="5" fill="none" stroke="#d8d8d8" stroke-width="1.2"/><rect x="1111" y="27.8" width="5.2" height="5.2" fill="none" stroke="#d8d8d8" stroke-width="1"/><path d="M1117.2 34.2L1123 39.6" stroke="#d8d8d8" stroke-width="1.3"/>
<path d="M1141.4 24V40 M1137 39.6H1152 M1138 32.4H1145" stroke="#d8d8d8" stroke-width="1.1" fill="none"/><path d="M1144 28.6h5.4l-1.6 2 2.6 2.2h-5.2" stroke="#d8d8d8" stroke-width="1" fill="none"/>
<circle cx="1177.6" cy="27" r="1.5" fill="none" stroke="#606060" stroke-width="1"/><rect x="1181.6" y="25.7" width="9.8" height="2.6" rx="0.6" fill="#606060"/>
<circle cx="1177.6" cy="32.4" r="1.5" fill="none" stroke="#606060" stroke-width="1"/><rect x="1181.6" y="31.099999999999998" width="9.8" height="2.6" rx="0.6" fill="#606060"/>
<circle cx="1177.6" cy="37.8" r="1.5" fill="none" stroke="#606060" stroke-width="1"/><rect x="1181.6" y="36.5" width="9.8" height="2.6" rx="0.6" fill="#606060"/>
<circle cx="1210.2" cy="30.4" r="5.2" fill="none" stroke="#606060" stroke-width="1.2"/>
<path d="M1214.0 34.4L1219.8 39.8" stroke="#606060" stroke-width="1.4"/>
<path d="M1207.6000000000001 30.4h5.2" stroke="#606060" stroke-width="1.2"/>
<path d="M1210.2 27.8v5.2" stroke="#606060" stroke-width="1.2"/>
<circle cx="1240" cy="30.4" r="5.2" fill="none" stroke="#606060" stroke-width="1.2"/>
<path d="M1243.8 34.4L1249.6 39.8" stroke="#606060" stroke-width="1.4"/>
<path d="M1237.4 30.4h5.2" stroke="#606060" stroke-width="1.2"/>
<path d="M1264.2 32.2L1272.2 26L1280.2 32.2 M1266.2 31V38.2H1278.2V31" fill="none" stroke="#444" stroke-width="1.3"/>
</g>
</svg>
</body></html>
